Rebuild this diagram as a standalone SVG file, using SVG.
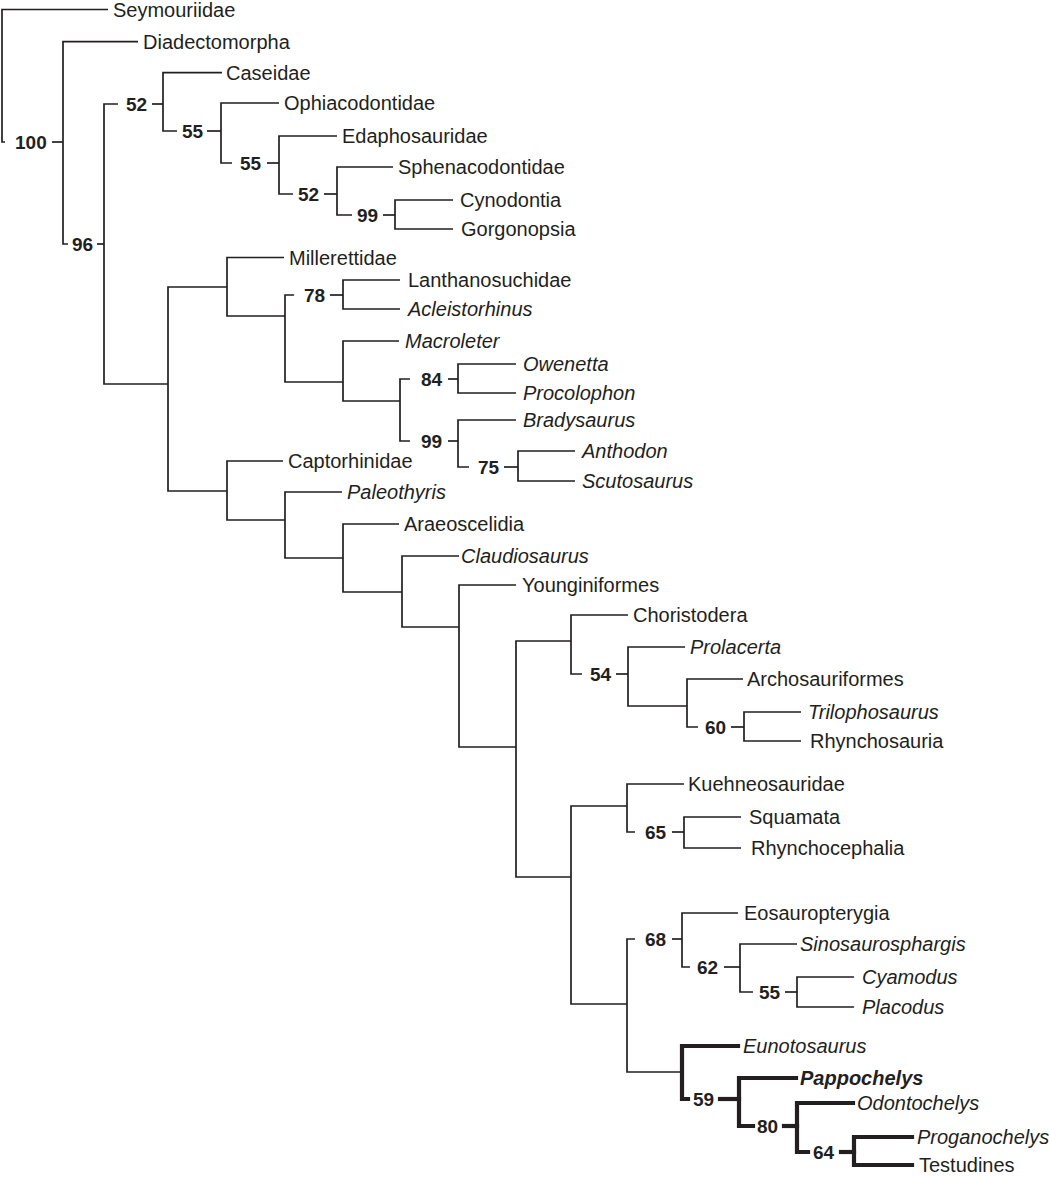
<svg xmlns="http://www.w3.org/2000/svg" width="1049" height="1177" viewBox="0 0 1049 1177">
<style>
.c path{fill:none;stroke:#231f20;stroke-linejoin:miter;stroke-linecap:butt}
.thin path{stroke-width:1.7}
.thick path{stroke-width:4.2;stroke-linecap:square}
text{font-family:"Liberation Sans",Arial,Helvetica,sans-serif;font-size:20px;fill:#231f20}
.i{font-style:italic}
.bi{font-style:italic;font-weight:bold}
.s{font-weight:bold;font-size:19px}
</style>
<rect width="1049" height="1177" fill="#ffffff"/>
<g id="connectors" class="c">
<g class="thin">
<path d="M108,9.5 H2 V142 H5"/><path d="M52,142 H63"/>
<path d="M138,41.7 H63 V244 H68"/><path d="M97,244 H104"/>
<path d="M118,104 H104 V384 H168"/><path d="M152,104 H163"/>
<path d="M222,72.7 H163 V131 H177"/><path d="M207,131 H221"/>
<path d="M279,103 H221 V163 H232"/><path d="M267,163 H279"/>
<path d="M337,136 H279 V194 H293"/><path d="M324,194 H337"/>
<path d="M393,167 H337 V215 H352"/><path d="M383,215 H395"/>
<path d="M453,200 H395 V229 H453"/>
<path d="M227,287 H168 V491 H227"/>
<path d="M284,257.5 H227 V316 H285"/>
<path d="M294,295 H285 V382 H343"/><path d="M330,295 H343"/>
<path d="M400,280 H343 V309 H400"/>
<path d="M399,341 H343 V401 H400"/>
<path d="M410,379 H400 V441 H410"/><path d="M448,379 H458"/><path d="M448,441 H458"/>
<path d="M516,364 H458 V393 H516"/>
<path d="M516,420 H458 V467 H469"/><path d="M504,467 H518"/>
<path d="M575,451 H518 V481 H575"/>
<path d="M283,461 H227 V520 H285"/>
<path d="M342,492 H285 V558 H343"/>
<path d="M399,524 H343 V592 H402"/>
<path d="M459,556 H402 V627 H459"/>
<path d="M516,585 H459 V747 H516"/>
<path d="M571,641 H516 V877 H571"/>
<path d="M628,615 H571 V674 H582"/><path d="M616,674 H628"/>
<path d="M685,647 H628 V706 H687"/>
<path d="M743,679 H687 V727 H698"/><path d="M731,727 H744"/>
<path d="M801,712 H744 V741 H801"/>
<path d="M627,806 H571 V1004 H627"/>
<path d="M684,784 H627 V832 H635"/><path d="M672,832 H684"/>
<path d="M741,817 H684 V848 H741"/>
<path d="M635,939 H627 V1072 H682"/><path d="M672,939 H682"/>
<path d="M738,913 H682 V967 H690"/><path d="M724,967 H740"/>
<path d="M797,944 H740 V992 H753"/><path d="M785,992 H797"/>
<path d="M854,977 H797 V1007 H854"/>
</g>
<g class="thick">
<path d="M738,1046 H682 V1099 H688"/><path d="M720,1099 H739"/>
<path d="M796,1078 H739 V1126 H753"/><path d="M784,1126 H797"/>
<path d="M853,1103 H797 V1152 H808"/><path d="M841,1152 H854"/>
<path d="M912,1137 H854 V1165 H912"/>
</g>
</g>
<g id="supports">
<g id="n100"><text class="s" x="15" y="149">100</text></g>
<g id="n96"><text class="s" x="72" y="251">96</text></g>
<g id="n52a"><text class="s" x="126" y="111">52</text></g>
<g id="n55a"><text class="s" x="182" y="138">55</text></g>
<g id="n55b"><text class="s" x="240" y="170">55</text></g>
<g id="n52b"><text class="s" x="298" y="201">52</text></g>
<g id="n99a"><text class="s" x="357" y="222">99</text></g>
<g id="n78"><text class="s" x="304" y="302">78</text></g>
<g id="n84"><text class="s" x="421" y="386">84</text></g>
<g id="n99b"><text class="s" x="421" y="448">99</text></g>
<g id="n75"><text class="s" x="478" y="474">75</text></g>
<g id="n54"><text class="s" x="590" y="681">54</text></g>
<g id="n60"><text class="s" x="705" y="734">60</text></g>
<g id="n65"><text class="s" x="645" y="839">65</text></g>
<g id="n68"><text class="s" x="645" y="946">68</text></g>
<g id="n62"><text class="s" x="697" y="974">62</text></g>
<g id="n55c"><text class="s" x="759" y="999">55</text></g>
<g id="n59"><text class="s" x="693" y="1106">59</text></g>
<g id="n80"><text class="s" x="757" y="1133">80</text></g>
<g id="n64"><text class="s" x="813" y="1159">64</text></g>
</g>
<g id="taxa">
<g id="t-seymouriidae"><text x="113" y="16.5">Seymouriidae</text></g>
<g id="t-diadectomorpha"><text x="143" y="48.7">Diadectomorpha</text></g>
<g id="t-caseidae"><text x="226" y="79.7">Caseidae</text></g>
<g id="t-ophiacodontidae"><text x="284" y="110">Ophiacodontidae</text></g>
<g id="t-edaphosauridae"><text x="342" y="143">Edaphosauridae</text></g>
<g id="t-sphenacodontidae"><text x="398" y="174">Sphenacodontidae</text></g>
<g id="t-cynodontia"><text x="460" y="207">Cynodontia</text></g>
<g id="t-gorgonopsia"><text x="461" y="236">Gorgonopsia</text></g>
<g id="t-millerettidae"><text x="289" y="264.5">Millerettidae</text></g>
<g id="t-lanthanosuchidae"><text x="408" y="287">Lanthanosuchidae</text></g>
<g id="t-acleistorhinus"><text class="i" x="408" y="316">Acleistorhinus</text></g>
<g id="t-macroleter"><text class="i" x="405" y="348">Macroleter</text></g>
<g id="t-owenetta"><text class="i" x="523" y="371">Owenetta</text></g>
<g id="t-procolophon"><text class="i" x="523" y="400">Procolophon</text></g>
<g id="t-bradysaurus"><text class="i" x="523" y="427">Bradysaurus</text></g>
<g id="t-anthodon"><text class="i" x="582" y="458">Anthodon</text></g>
<g id="t-scutosaurus"><text class="i" x="582" y="488">Scutosaurus</text></g>
<g id="t-captorhinidae"><text x="288" y="468">Captorhinidae</text></g>
<g id="t-paleothyris"><text class="i" x="347" y="499">Paleothyris</text></g>
<g id="t-araeoscelidia"><text x="404" y="531">Araeoscelidia</text></g>
<g id="t-claudiosaurus"><text class="i" x="461" y="563">Claudiosaurus</text></g>
<g id="t-younginiformes"><text x="522" y="592">Younginiformes</text></g>
<g id="t-choristodera"><text x="633" y="622">Choristodera</text></g>
<g id="t-prolacerta"><text class="i" x="690" y="654">Prolacerta</text></g>
<g id="t-archosauriformes"><text x="747" y="686">Archosauriformes</text></g>
<g id="t-trilophosaurus"><text class="i" x="808" y="719">Trilophosaurus</text></g>
<g id="t-rhynchosauria"><text x="810" y="748">Rhynchosauria</text></g>
<g id="t-kuehneosauridae"><text x="688" y="791">Kuehneosauridae</text></g>
<g id="t-squamata"><text x="749" y="824">Squamata</text></g>
<g id="t-rhynchocephalia"><text x="751" y="855">Rhynchocephalia</text></g>
<g id="t-eosauropterygia"><text x="744" y="920">Eosauropterygia</text></g>
<g id="t-sinosaurosphargis"><text class="i" x="800" y="951">Sinosaurosphargis</text></g>
<g id="t-cyamodus"><text class="i" x="862" y="984">Cyamodus</text></g>
<g id="t-placodus"><text class="i" x="862" y="1014">Placodus</text></g>
<g id="t-eunotosaurus"><text class="i" x="743" y="1053">Eunotosaurus</text></g>
<g id="t-pappochelys"><text class="bi" x="800" y="1085">Pappochelys</text></g>
<g id="t-odontochelys"><text class="i" x="857" y="1110">Odontochelys</text></g>
<g id="t-proganochelys"><text class="i" x="917" y="1144">Proganochelys</text></g>
<g id="t-testudines"><text x="919" y="1172">Testudines</text></g>
</g>
</svg>
